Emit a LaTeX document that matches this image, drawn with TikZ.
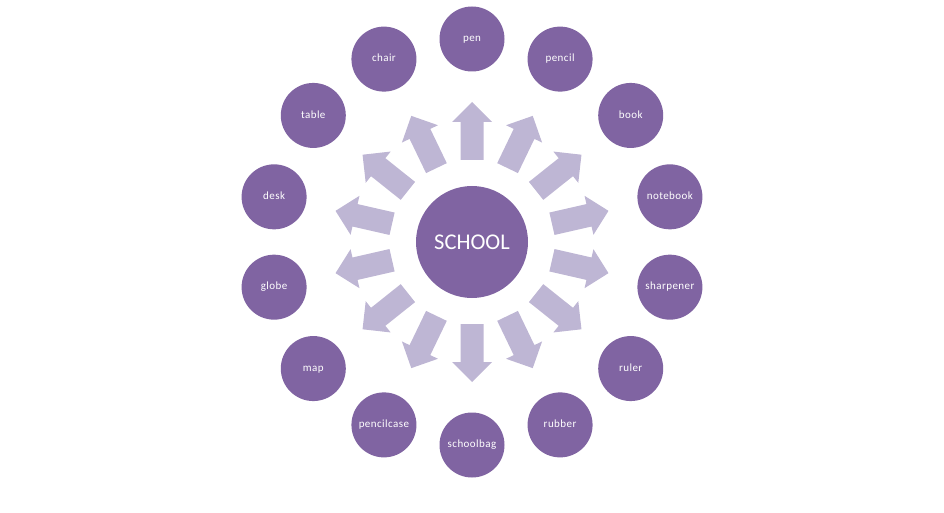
\documentclass[tikz,border=0pt]{standalone}
\usepackage{fontspec}
\setmainfont{Carlito}
\newfontfamily\itemfont[LetterSpace=4]{Carlito}
\usetikzlibrary{calc}
\definecolor{circ}{RGB}{128,100,162}
\definecolor{arr}{RGB}{190,182,212}
\tikzset{
  item/.style={circle, fill=circ, minimum size=65pt, inner sep=0pt, text=white, text height=5.2pt, text depth=0pt, font=\itemfont\fontsize{11}{13}\selectfont},
  hub/.style={circle, fill=circ, minimum size=112pt, inner sep=0pt, text=white, font=\fontsize{22.5}{26}\selectfont},
  blockarrow/.style={fill=arr}
}
\begin{document}
\begin{tikzpicture}[x=1pt,y=1pt]
\useasboundingbox (0,0) rectangle (944,512);
\coordinate (c) at (472,270);
\node[hub] (school) at (c) {SCHOOL};
\foreach \name [count=\i from 0] in {pen,pencil,book,notebook,sharpener,ruler,rubber,schoolbag,pencilcase,map,globe,desk,table,chair}{
  \pgfmathsetmacro\a{90-\i*360/14}
  \node[item] (\name) at ($(c)+(\a:203)$) {\name};
  \begin{scope}[shift={(c)}, rotate=\a]
    \fill[blockarrow] (82,-11.5) -- (120,-11.5) -- (120,-20) -- (140,0) -- (120,20) -- (120,11.5) -- (82,11.5) -- cycle;
  \end{scope}
}
\end{tikzpicture}
\end{document}
